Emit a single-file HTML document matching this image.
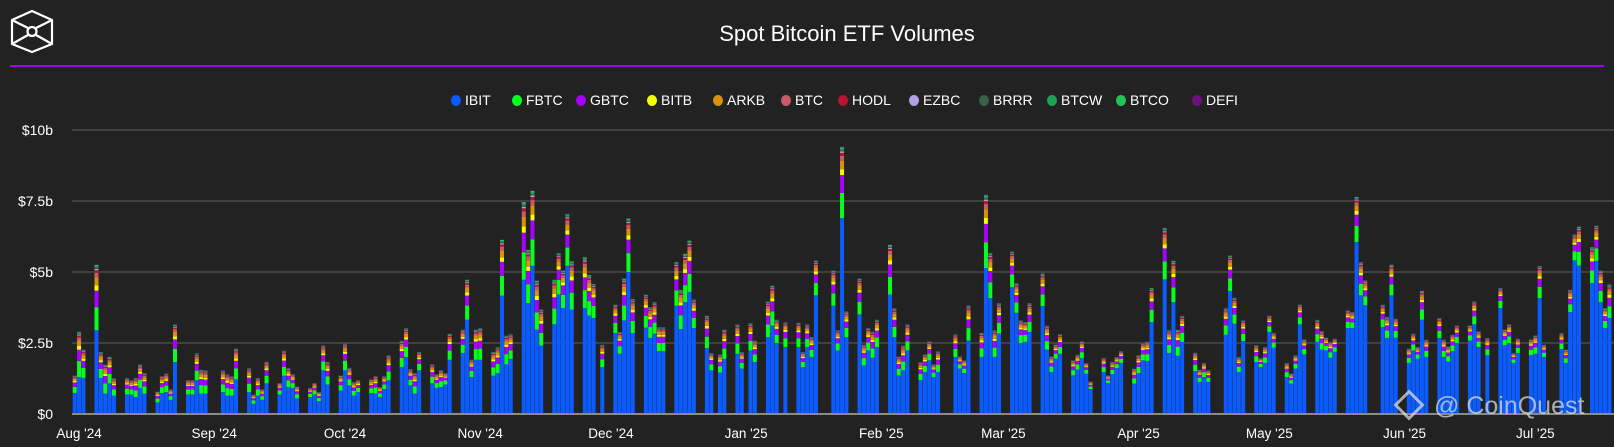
<!DOCTYPE html>
<html><head><meta charset="utf-8"><style>
html,body{margin:0;padding:0;background:#222222;}
body{width:1614px;height:447px;overflow:hidden;position:relative;font-family:"Liberation Sans",sans-serif;color:#fff;}
#title{position:absolute;left:0;width:1694px;top:21px;text-align:center;font-size:22px;color:#fff;}
#rule{position:absolute;left:10px;top:65px;width:1594px;height:2px;background:#a100f2;}
#legend{position:absolute;left:0;top:90px;height:20px;width:1614px;}
.lg{position:absolute;top:0;height:20px;font-size:14px;line-height:20px;color:#fff;}
.lg i{position:absolute;left:-14px;top:5px;width:10px;height:11px;border-radius:50%;}
</style></head><body>
<svg width="60" height="60" style="position:absolute;left:0;top:0" viewBox="0 0 60 60">
<g fill="none" stroke="#fff" stroke-width="2.2" stroke-linejoin="round">
<polygon points="32,11 52,20 52,44 32,52 12,44 12,20"/>
<line x1="12" y1="20" x2="28" y2="28"/><line x1="52" y1="20" x2="36" y2="28"/>
<line x1="12" y1="44" x2="28" y2="35"/><line x1="52" y1="44" x2="36" y2="35"/>
<circle cx="32" cy="31.5" r="4.5"/></g></svg>
<div id="title">Spot Bitcoin ETF Volumes</div>
<div id="rule"></div>
<div id="legend"></div>
<svg id="chart" width="1614" height="447" style="position:absolute;left:0;top:0"></svg>
<div style="position:absolute;left:1398px;top:392px;font-size:25px;color:rgba(220,220,220,0.75);">
<span style="display:inline-block;width:22px;height:22px;border:3px solid rgba(220,220,220,0.75);transform:rotate(45deg);margin-right:14px;vertical-align:-2px;box-sizing:border-box"></span>@ CoinQuest</div>
<script>
const series = ["IBIT","FBTC","GBTC","BITB","ARKB","BTC","HODL","EZBC","BRRR","BTCW","BTCO","DEFI"];
const colors = ["#0a5cff","#06ff1e","#a600ff","#f2ff00","#d9920a","#c95a6a","#b8142e","#b0a0e8","#3a6048","#1fa055","#22c455","#6c1080"];
const otherShare = [0.35,0.25,0.08,0.12,0.07,0.04,0.02,0.02,0.02,0.02,0.01];
const yTicks = [0,2.5,5,7.5,10];
const yTickLabels = ["$0","$2.5b","$5b","$7.5b","$10b"];
const monthTicks = ["2024-08-01","2024-09-01","2024-10-01","2024-11-01","2024-12-01","2025-01-01","2025-02-01","2025-03-01","2025-04-01","2025-05-01","2025-06-01","2025-07-01"];
const monthLabels = ["Aug '24","Sep '24","Oct '24","Nov '24","Dec '24","Jan '25","Feb '25","Mar '25","Apr '25","May '25","Jun '25","Jul '25"];
const holidays = ["2024-09-02","2024-11-28","2024-12-25","2025-01-01","2025-01-09","2025-01-20","2025-02-17","2025-04-18","2025-05-26","2025-06-19","2025-07-04"];
const totals = [1.36,2.91,2.27,5.27,2.19,1.75,2.02,1.26,1.27,1.19,1.27,1.75,1.44,0.79,1.33,1.43,0.87,3.16,1.19,1.19,2.15,1.57,1.54,
1.54,1.40,1.33,2.31,1.62,0.69,1.27,0.87,1.85,1.09,2.24,1.62,1.40,0.97,0.92,1.09,0.77,2.42,1.84,
1.36,2.5,1.63,1.13,1.19,1.22,1.33,0.95,1.33,2.07,2.59,3.03,1.58,1.44,2.19,1.75,1.40,1.54,1.44,2.83,2.98,4.74,1.92,2.98,
3.03,2.19,2.36,6.15,2.77,2.81,7.49,5.79,7.88,4.71,3.69,4.74,5.67,5.06,7.05,5.39,5.53,4.91,4.59,2.44,
3.86,2.89,4.78,6.90,4.06,4.21,3.77,3.94,3.06,3.06,5.36,4.38,5.65,6.12,4.04,3.47,2.15,2.10,2.98,3.16,2.18,
3.20,2.59,3.97,4.53,3.33,3.24,3.22,2.18,3.16,2.71,5.41,5.06,2.95,9.42,3.62,4.78,2.45,3.03,2.91,3.33,
5.97,3.73,2.03,2.42,3.16,1.83,2.10,2.56,1.75,2.21,2.81,2.03,1.89,3.83,2.86,7.73,5.67,2.95,3.91,
5.73,4.61,3.30,3.24,3.91,4.96,3.12,2.03,2.45,2.81,1.89,2.09,2.56,1.80,1.14,1.97,1.36,1.84,2.01,2.21,1.60,
2.07,2.50,2.55,4.45,6.56,2.95,5.41,2.97,3.47,2.16,1.56,1.80,1.54,3.73,5.59,4.10,2.01,3.30,2.42,1.97,2.36,
3.47,2.86,1.80,1.42,2.07,3.86,2.63,3.32,2.92,2.69,2.54,2.65,3.65,3.59,7.66,5.35,4.71,3.85,3.42,5.27,3.36,
2.30,2.83,2.36,4.35,2.62,3.38,2.62,2.38,2.79,3.12,3.12,3.97,2.91,2.68,4.44,2.98,3.16,2.15,2.65,2.63,
2.77,5.22,2.44,2.85,2.27,4.38,6.33,6.61,5.88,6.64,5.06,3.73,4.57];
const ibit = [0.74,1.30,1.27,2.95,1.27,0.72,1.08,0.65,0.69,0.69,0.6,0.92,0.72,0.41,0.74,0.77,0.5,1.83,0.69,0.69,1.19,0.72,0.72,
0.77,0.65,0.65,1.22,0.77,0.36,0.65,0.5,1.08,0.69,1.35,0.95,0.92,0.55,0.6,0.69,0.45,1.54,1.04,
0.83,1.54,1.01,0.65,0.77,0.74,0.72,0.6,0.88,1.19,1.65,2.01,1.01,0.72,1.54,1.08,0.92,0.95,1.04,1.91,2.15,3.32,1.30,1.91,
1.91,1.35,1.44,4.17,1.75,1.94,4.73,3.91,5.22,2.97,2.41,3.16,4.21,3.73,5.22,3.67,3.73,3.47,3.38,1.65,
2.85,2.12,3.30,5.0,2.85,3.04,2.68,2.83,2.21,2.21,3.81,2.99,3.94,4.30,3.03,2.32,1.54,1.46,1.94,2.12,1.60,
2.24,1.83,2.71,3.12,2.50,2.36,2.36,1.65,2.36,2.01,4.18,3.81,2.24,6.90,2.71,3.51,1.71,2.24,1.98,2.36,
4.21,2.71,1.36,1.54,2.24,1.19,1.48,1.89,1.30,1.48,2.01,1.60,1.44,2.59,2.01,5.14,4.08,2.01,2.83,
4.47,3.56,2.50,2.54,2.89,3.80,2.27,1.48,1.95,2.12,1.36,1.56,1.97,1.42,0.88,1.48,1.09,1.40,1.62,1.80,1.07,
1.44,1.89,1.87,3.24,4.74,2.15,3.94,2.05,2.54,1.51,1.13,1.30,1.13,2.79,4.33,3.18,1.48,2.57,1.83,1.65,1.80,
2.89,2.34,1.30,1.07,1.60,3.16,2.10,2.54,2.27,2.24,1.98,2.19,3.03,3.03,6.06,4.18,3.83,3.06,2.68,4.18,2.69,
1.80,2.24,1.95,3.32,2.01,2.68,2.01,1.85,2.21,2.50,2.59,3.16,2.36,2.07,3.73,2.42,2.50,1.80,2.15,2.07,
2.12,4.08,2.01,2.29,1.80,3.59,5.41,5.23,4.61,5.39,3.94,3.03,3.38];

const NS="http://www.w3.org/2000/svg";
const svg=document.getElementById('chart');
const day0=Date.UTC(2024,6,31);
function dayIdx(s){const p=s.split('-');return (Date.UTC(+p[0],+p[1]-1,+p[2])-day0)/864e5;}
function xScale(d){return 74.7+4.36*d;}
function yScale(v){return 414-28.4*v;}
function mk(tag,attrs){const e=document.createElementNS(NS,tag);for(const k in attrs)e.setAttribute(k,attrs[k]);svg.appendChild(e);return e;}

yTicks.forEach((t,i)=>{
  if(t>0){const g=mk('line',{x1:72,x2:1614,y1:yScale(t),y2:yScale(t),stroke:'#4a4a4a','stroke-width':1.5});
  
  }
  const tx=mk('text',{x:53,y:yScale(t)+5,'text-anchor':'end',fill:'#fff','font-size':14,'font-family':'Liberation Sans, sans-serif'});
  tx.textContent=yTickLabels[i];
  
  
});

const hol=new Set(holidays);
const days=[];
for(let d=0;days.length<totals.length&&d<400;d++){
  const dt=new Date(day0+d*864e5);const wd=dt.getUTCDay();
  const s=dt.toISOString().slice(0,10);
  if(wd===0||wd===6||hol.has(s))continue;
  days.push(d);
}
totals.forEach((tot,i)=>{
  const x=xScale(days[i])-2;
  const rest=Math.max(0,tot-ibit[i]);
  const vals=[ibit[i]].concat(otherShare.map(f=>f*rest));
  let acc=0;
  vals.forEach((v,j)=>{
    if(v<=0)return;
    const y1=yScale(acc+v),y0=yScale(acc);
    const r=mk('rect',{x:x,y:y1,width:4,height:Math.max(0.5,y0-y1),fill:colors[j]});
    
    
    acc+=v;
  });
});
const ax=mk('line',{x1:72,x2:1614,y1:414,y2:414,stroke:'#8a8a8a','stroke-width':2});


monthTicks.forEach((m,i)=>{
  const t=mk('text',{x:xScale(dayIdx(m)),y:438,'text-anchor':'middle',fill:'#fff','font-size':13.5,'font-family':'Liberation Sans, sans-serif'});
  t.textContent=monthLabels[i];
  
  
});
const legX=[456,517,581,652,718,786,843,914,984,1052,1121,1197];
const leg=document.getElementById('legend');
series.forEach((s,i)=>{
  const d=document.createElement('div');d.className='lg';d.style.left=(legX[i]+9)+'px';
  d.innerHTML='<i style="background:'+colors[i]+'"></i>'+s;
  
  
  leg.appendChild(d);
});
</script>
</body></html>
